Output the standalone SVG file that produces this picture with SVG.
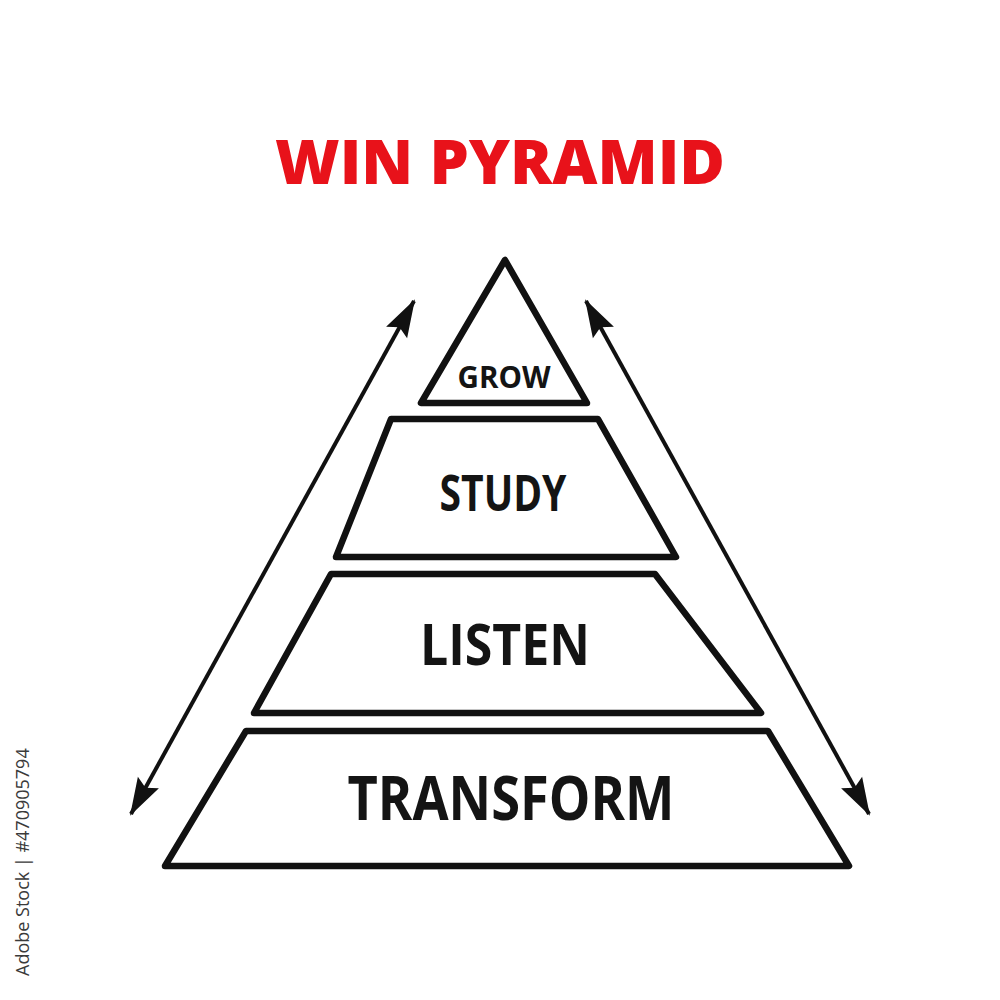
<svg xmlns="http://www.w3.org/2000/svg" width="1000" height="1000" viewBox="0 0 1000 1000">
  <style>
    .tier { fill: #ffffff; stroke: #111111; stroke-width: 6.5; stroke-linejoin: round; }
    .lbl { font-family: "Open Sans", "Liberation Sans", sans-serif; font-weight: bold; fill: #141414; text-anchor: middle; }
    .title { font-family: "Open Sans", "Liberation Sans", sans-serif; font-weight: 800; fill: #e8121a; text-anchor: middle; }
    .conn { stroke: #111111; stroke-width: 4; fill: none; marker-start: url(#head); marker-end: url(#head); }
    .wm { font-family: "Open Sans", "Liberation Sans", sans-serif; fill: #3a3a3a; font-size: 18px; }
  </style>
  <defs>
    <marker id="head" viewBox="0 0 38 28" refX="36" refY="14" markerWidth="38" markerHeight="28" markerUnits="userSpaceOnUse" orient="auto-start-reverse">
      <path d="M0,2 L38,14 L0,26 L6,14 Z" fill="#111111"/>
    </marker>
  </defs>
  <rect width="1000" height="1000" fill="#ffffff"/>

  <text class="title" x="500" y="184" font-size="62" textLength="450" lengthAdjust="spacingAndGlyphs">WIN PYRAMID</text>

  <g id="connectors">
    <line class="conn" x1="131" y1="814" x2="414" y2="301"/>
    <line class="conn" x1="586" y1="301" x2="869" y2="814"/>
  </g>

  <g id="grow">
    <polygon class="tier" points="505,260 421,403 587,403"/>
    <text class="lbl" x="504" y="388" font-size="31" textLength="93" lengthAdjust="spacingAndGlyphs">GROW</text>
  </g>
  <g id="study">
    <polygon class="tier" points="391,419 598,419 676,557 336,557"/>
    <text class="lbl" x="503" y="511" font-size="50" textLength="127" lengthAdjust="spacingAndGlyphs">STUDY</text>
  </g>
  <g id="listen">
    <polygon class="tier" points="331,574 655,574 761,713 254,713"/>
    <text class="lbl" x="505" y="665" font-size="58" textLength="170" lengthAdjust="spacingAndGlyphs">LISTEN</text>
  </g>
  <g id="transform">
    <polygon class="tier" points="246,731 768,731 849,866 165,866"/>
    <text class="lbl" x="511" y="820" font-size="60" textLength="327" lengthAdjust="spacingAndGlyphs">TRANSFORM</text>
  </g>

  <text class="wm" transform="translate(29,976) rotate(-90)">Adobe Stock | #470905794</text>
</svg>
